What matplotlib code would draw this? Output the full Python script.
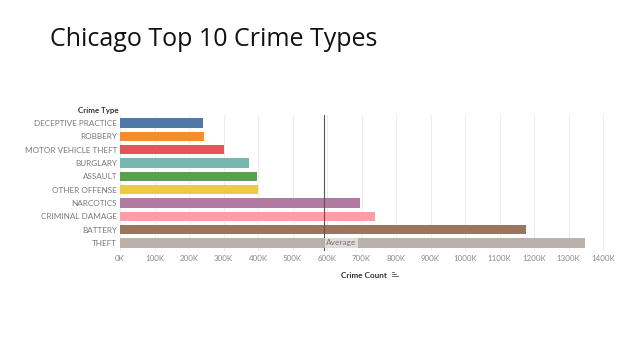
import numpy as np
import matplotlib.pyplot as plt
from matplotlib.lines import Line2D

plt.rcParams['font.family'] = ['Lato', 'DejaVu Sans']

# data (crime counts)
crime_types = ['DECEPTIVE PRACTICE', 'ROBBERY', 'MOTOR VEHICLE THEFT', 'BURGLARY',
               'ASSAULT', 'OTHER OFFENSE', 'NARCOTICS', 'CRIMINAL DAMAGE',
               'BATTERY', 'THEFT']
counts = [241000, 244000, 301000, 374000, 397000, 400000, 696000, 739000,
          1177000, 1348000]
colors = ['#4E79A7', '#F28E2B', '#E15759', '#76B7B2', '#59A14F', '#EDC948',
          '#B07AA1', '#FF9DA7', '#9C755F', '#BAB0AC']
ticks = list(range(0, 1400001, 100000))
tick_labels = ['{}K'.format(t // 1000) for t in ticks]

fig = plt.figure(figsize=(6.38, 3.59), dpi=100)
fig.patch.set_facecolor('white')

fig.text(50 / 638, 1 - 46 / 359, 'Chicago Top 10 Crime Types', fontsize=18,
         color='#111111', ha='left', va='baseline', family=['Open Sans', 'DejaVu Sans'])

ax = fig.add_axes([120 / 638, 108 / 359, 490 / 638, 136 / 359])
y = np.arange(len(crime_types))
ax.barh(y, counts, height=0.72, color=colors, zorder=2)

avg = np.mean(counts)
ax.axvline(avg, color='#555555', lw=0.8, zorder=3)
ax.text(avg + 5000, 9, 'Average', fontsize=6, color='#777777', va='center',
        ha='left', zorder=4,
        bbox=dict(boxstyle='square,pad=0.2', fc='white', ec='none', alpha=0.55))

ax.set_xlim(0, 1420000)
ax.set_ylim(9.6, -0.6)
ax.set_xticks(ticks)
ax.set_xticklabels(tick_labels, fontsize=5.7, color='#8a8a8a')
ax.set_yticks(y)
ax.set_yticklabels(crime_types, fontsize=5.9, color='#7a7a7a')
ax.tick_params(length=0, pad=2)
ax.tick_params(axis='x', pad=3)
ax.grid(axis='x', color='#ececec', lw=0.7, zorder=0)
for s in ax.spines.values():
    s.set_visible(False)

fig.text(118 / 638, 1 - 111 / 359, 'Crime Type', fontsize=5.7, color='#333333',
         ha='right', va='center', fontweight='bold')
fig.text(364 / 638, 1 - 275 / 359, 'Crime Count', fontsize=5.9, color='#333333',
         ha='center', va='center', fontweight='bold')

# little sort icon next to the axis title
for i, (x0, x1) in enumerate([(392, 394), (392, 396), (392, 398)]):
    yy = 1 - (272 + i * 2.2) / 359
    fig.add_artist(Line2D([x0 / 638, x1 / 638], [yy, yy], color='#555555', lw=0.6))

fig.savefig('out.png', dpi=100)
